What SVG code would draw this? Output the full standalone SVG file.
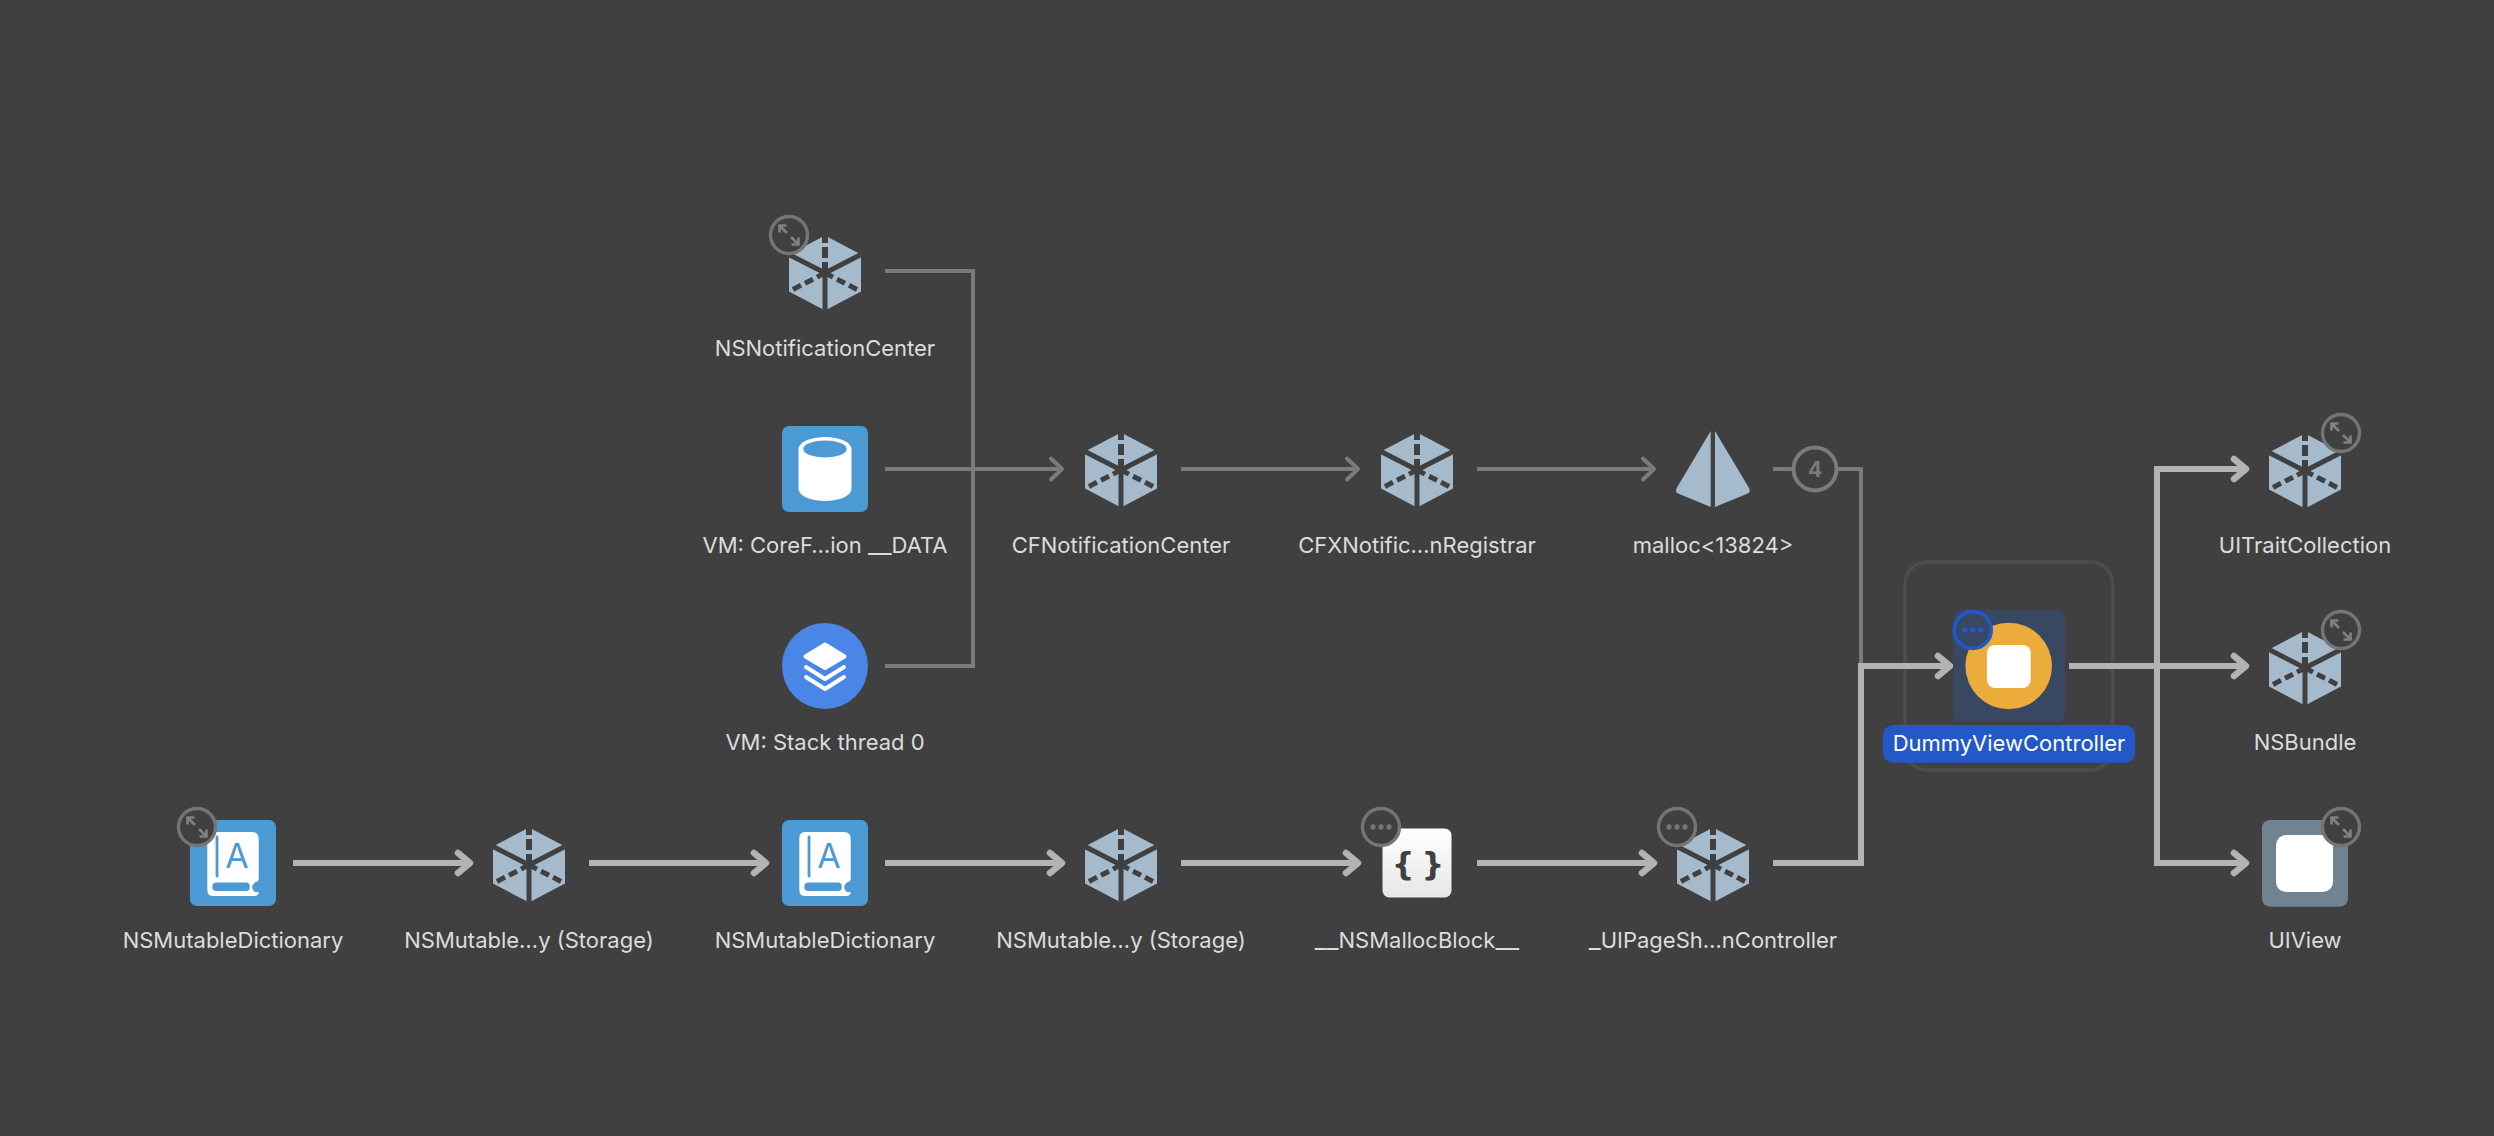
<svg xmlns="http://www.w3.org/2000/svg" xmlns:xlink="http://www.w3.org/1999/xlink" width="2494" height="1136" viewBox="0 0 2494 1136">
<style>
.lbl{font-family:"Inter","Liberation Sans",sans-serif;font-size:22px;fill:#dcdcdc;text-anchor:middle}
.us{font-size:26px}
.thin{fill:none;stroke:#7b7b7b;stroke-width:4}
.thick{fill:none;stroke:#b3b3b3;stroke-width:6}
.ah1{fill:none;stroke:#7b7b7b;stroke-width:4;stroke-linecap:round;stroke-linejoin:round}
.ah2{fill:none;stroke:#b3b3b3;stroke-width:6.5;stroke-linecap:round;stroke-linejoin:round}
.badge{fill:#404040;stroke:#757575;stroke-width:3.4}
.bico{fill:none;stroke:#808080;stroke-width:2.7}
.cut{stroke:#404040;fill:none}
</style>
<defs>
<g id="hex">
<polygon points="0,-37.5 36,-18.5 36,18.5 0,37.5 -36,18.5 -36,-18.5" fill="#a5bbcc"/>
<path class="cut" stroke-width="5" d="M0 0L-38 -19.5M0 0L38 -19.5M0 0V39"/>
<path class="cut" stroke-width="6" stroke-dasharray="11 4" d="M0 0V-38"/>
<path class="cut" stroke-width="5" stroke-dasharray="9 4.5" d="M0 0L-38 19.5M0 0L38 19.5"/>
</g>
<g id="expand">
<circle class="badge" r="18.500"/>
<path class="bico" d="M-2.500 -9.500H-9.500V-2.500M-9.500 -9.500L-2 -2M2 2L9.500 9.500M9.500 2.500V9.500H2.500"/>
</g>
<g id="more">
<circle class="badge" r="18.500"/>
<circle cx="-8" r="2.700" fill="#757575"/><circle r="2.700" fill="#757575"/><circle cx="8" r="2.700" fill="#757575"/>
</g>
<g id="book">
<rect x="-43" y="-43" width="86" height="86" rx="7" fill="#4b9ad4"/>
<path fill="#fff" d="M-20 -31H19Q25.700 -31 25.700 -24V15Q25.700 19 22.500 19Q16 24 22 29H25.700Q25.700 33 21 33H-20Q-25.700 33 -25.700 27V-25Q-25.700 -31 -20 -31Z"/>
<path fill="none" stroke="#4b9ad4" stroke-width="2.800" stroke-linecap="round" d="M-16 -26V13"/>
<rect x="-20.700" y="19.500" width="37.500" height="8.500" rx="4" fill="#4b9ad4"/>
<text x="4" y="5" font-family="'Inter','Liberation Sans',sans-serif" font-size="34" fill="#4b9ad4" text-anchor="middle">A</text>
</g>
<linearGradient id="blockg" x1="0" y1="0" x2="0" y2="1"><stop offset="0" stop-color="#ffffff"/><stop offset="1" stop-color="#e6e6e6"/></linearGradient>
</defs>
<rect width="2494" height="1136" fill="#404040"/>
<rect x="1905" y="562" width="207.500" height="208" rx="22" fill="none" stroke="#4d4d4d" stroke-width="3.600"/>
<g id="connectors">
<path class="thin" d="M885 271H973V666H885"/>
<path class="thin" d="M885 469H1062"/><path class="ah1" d="M1051 458.500L1062 469L1051 479.500"/>
<path class="thin" d="M1181 469H1358"/><path class="ah1" d="M1347 458.500L1358 469L1347 479.500"/>
<path class="thin" d="M1477 469H1654"/><path class="ah1" d="M1643 458.500L1654 469L1643 479.500"/>
<path class="thin" d="M1773 469H1793M1837 469H1861V666"/>
<path class="thick" d="M293 863H470"/><path class="ah2" d="M458 853L470 863L458 873"/>
<path class="thick" d="M589 863H766"/><path class="ah2" d="M754 853L766 863L754 873"/>
<path class="thick" d="M885 863H1062"/><path class="ah2" d="M1050 853L1062 863L1050 873"/>
<path class="thick" d="M1181 863H1358"/><path class="ah2" d="M1346 853L1358 863L1346 873"/>
<path class="thick" d="M1477 863H1654"/><path class="ah2" d="M1642 853L1654 863L1642 873"/>
<path class="thick" d="M1773 863H1861V666H1950"/><path class="ah2" d="M1938 656L1950 666L1938 676"/>
<path class="thick" d="M2069 666H2157"/>
<path class="thick" d="M2246 469H2157V863H2246"/>
<path class="thick" d="M2157 666H2246"/>
<path class="ah2" d="M2234 459L2246 469L2234 479"/>
<path class="ah2" d="M2234 656L2246 666L2234 676"/>
<path class="ah2" d="M2234 853L2246 863L2234 873"/>
</g>
<g id="badge-4">
<circle cx="1815" cy="469" r="21.500" fill="none" stroke="#7b7b7b" stroke-width="4"/>
<text x="1815" y="477" font-family="'Inter','Liberation Sans',sans-serif" font-size="21" font-weight="700" fill="#7b7b7b" text-anchor="middle">4</text>
</g>
<g id="n-nsnotificationcenter">
<use xlink:href="#hex" href="#hex" x="825" y="273"/>
<use xlink:href="#expand" href="#expand" x="789" y="235"/>
<text class="lbl" x="825" y="356">NSNotificationCenter</text>
</g>
<g id="n-vm-data">
<rect x="782" y="426" width="86" height="86" rx="7" fill="#4b9ad4"/>
<path fill="#fff" d="M798.500 449A26.500 12 0 0 1 851.500 449V489A26.500 12 0 0 1 798.500 489Z"/>
<ellipse cx="825" cy="449" rx="21.700" ry="8.500" fill="#4b9ad4"/>
<text class="lbl" x="825" y="553">VM: CoreF…ion <tspan class="us">__</tspan>DATA</text>
</g>
<g id="n-vm-stack">
<circle cx="825" cy="666" r="43" fill="#4a86e8"/>
<path fill="#fff" stroke="#fff" stroke-width="4" stroke-linejoin="round" d="M825 644.500L844.500 656.500L825 668L805.500 656.500Z"/>
<path fill="none" stroke="#fff" stroke-width="4" stroke-linecap="round" stroke-linejoin="round" d="M806 667L825 679L844 667M806 677L825 689L844 677"/>
<text class="lbl" x="825" y="750">VM: Stack thread 0</text>
</g>
<g id="n-cfnotificationcenter">
<use xlink:href="#hex" href="#hex" x="1121" y="470"/>
<text class="lbl" x="1121" y="553">CFNotificationCenter</text>
</g>
<g id="n-cfxnotification">
<use xlink:href="#hex" href="#hex" x="1417" y="470"/>
<text class="lbl" x="1417" y="553">CFXNotific…nRegistrar</text>
</g>
<g id="n-malloc">
<path fill="#a5bbcc" d="M1710.700 431V507L1678 493.500Q1674.500 491.500 1677 487.500Z"/>
<path fill="#a5bbcc" d="M1715 431V507L1747.700 493.500Q1751.200 491.500 1748.700 487.500Z"/>
<text class="lbl" x="1713" y="553">malloc&lt;13824&gt;</text>
</g>
<g id="n-dict1">
<use xlink:href="#book" href="#book" x="233" y="863"/>
<use xlink:href="#expand" href="#expand" x="197" y="827"/>
<text class="lbl" x="233" y="947.500">NSMutableDictionary</text>
</g>
<g id="n-storage1">
<use xlink:href="#hex" href="#hex" x="529" y="865"/>
<text class="lbl" x="529" y="947.500">NSMutable…y (Storage)</text>
</g>
<g id="n-dict2">
<use xlink:href="#book" href="#book" x="825" y="863"/>
<text class="lbl" x="825" y="947.500">NSMutableDictionary</text>
</g>
<g id="n-storage2">
<use xlink:href="#hex" href="#hex" x="1121" y="865"/>
<text class="lbl" x="1121" y="947.500">NSMutable…y (Storage)</text>
</g>
<g id="n-mallocblock">
<rect x="1382.500" y="828.500" width="69" height="69" rx="7" fill="url(#blockg)"/>
<text x="1417" y="875" font-family="'DejaVu Sans','Liberation Sans',sans-serif" font-size="32" font-weight="700" fill="#404040" text-anchor="middle" letter-spacing="-2" xml:space="preserve">{ }</text>
<use xlink:href="#more" href="#more" x="1381" y="827"/>
<text class="lbl" x="1417" y="947.500"><tspan class="us">__</tspan>NSMallocBlock<tspan class="us">__</tspan></text>
</g>
<g id="n-uipageshadow">
<use xlink:href="#hex" href="#hex" x="1713" y="865"/>
<use xlink:href="#more" href="#more" x="1677" y="827"/>
<text class="lbl" x="1713" y="947.500"><tspan class="us">_</tspan>UIPageSh…nController</text>
</g>
<g id="n-dummyviewcontroller">
<rect x="1953" y="610" width="112" height="112" rx="8" fill="#394862"/>
<circle cx="2008.700" cy="666" r="43.300" fill="#ecac3c"/>
<rect x="1987" y="645" width="43.700" height="43" rx="8" fill="#fff"/>
<circle cx="1972.700" cy="630" r="18.500" fill="#394862" stroke="#2258c8" stroke-width="3.600"/>
<circle cx="1964.700" cy="630" r="2.800" fill="#2258c8"/><circle cx="1972.700" cy="630" r="2.800" fill="#2258c8"/><circle cx="1980.700" cy="630" r="2.800" fill="#2258c8"/>
<rect x="1883" y="725" width="252" height="37.700" rx="10" fill="#2258c8"/>
<text class="lbl" x="2009" y="751" style="fill:#fff">DummyViewController</text>
</g>
<g id="n-uitraitcollection">
<use xlink:href="#hex" href="#hex" x="2305" y="471"/>
<use xlink:href="#expand" href="#expand" x="2341" y="433"/>
<text class="lbl" x="2305" y="553">UITraitCollection</text>
</g>
<g id="n-nsbundle">
<use xlink:href="#hex" href="#hex" x="2305" y="668"/>
<use xlink:href="#expand" href="#expand" x="2341" y="630"/>
<text class="lbl" x="2305" y="750">NSBundle</text>
</g>
<g id="n-uiview">
<rect x="2262" y="820" width="86" height="86.700" rx="8" fill="#708390"/>
<rect x="2276" y="835" width="57" height="57" rx="10" fill="#fff"/>
<use xlink:href="#expand" href="#expand" x="2341" y="827"/>
<text class="lbl" x="2305" y="947.500">UIView</text>
</g>
</svg>
